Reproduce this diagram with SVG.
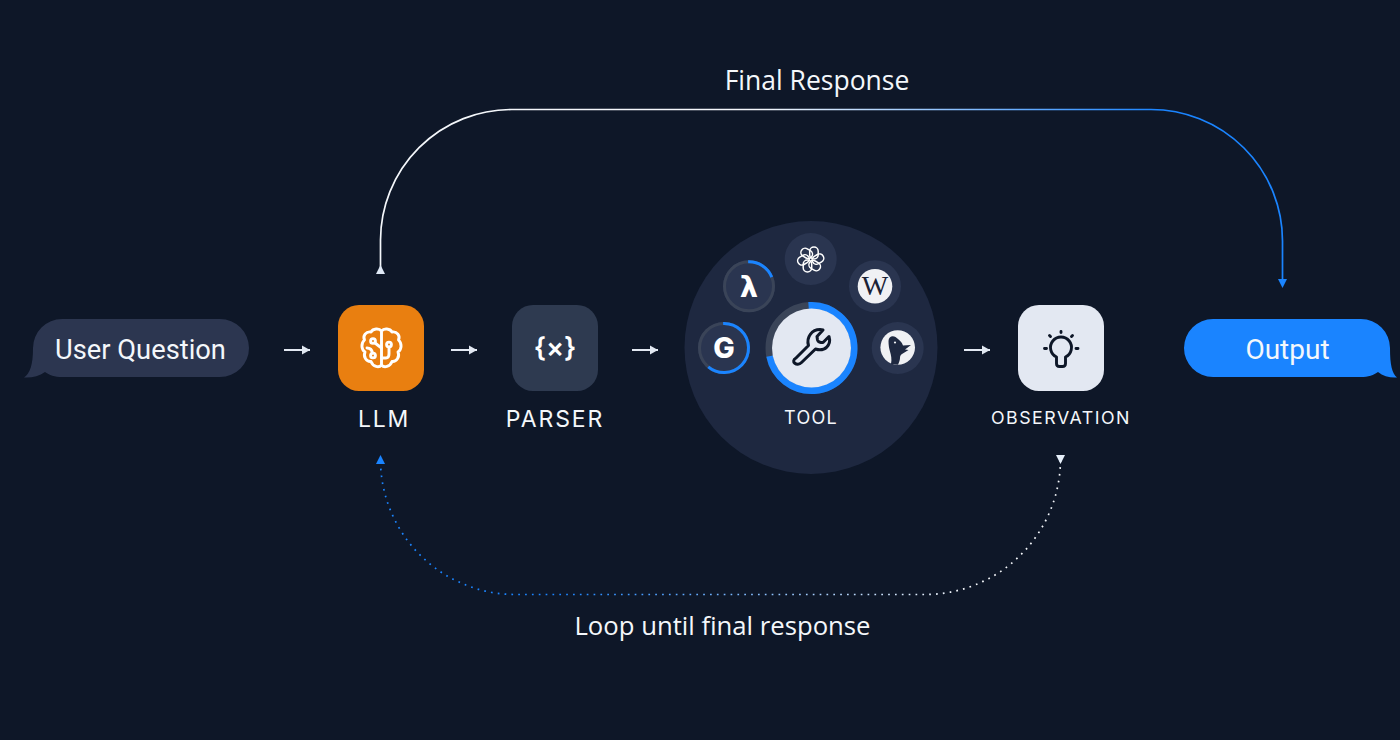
<svg xmlns="http://www.w3.org/2000/svg" width="1400" height="750" viewBox="0 0 1400 750">
<style>
.bubble{font-family:"Roboto","Liberation Sans",sans-serif;fill:#f4f7fb;text-anchor:middle}
.cap{font-family:"Inter","Liberation Sans",sans-serif;fill:#f4f7fb;text-anchor:middle}
.edge{font-family:"Open Sans","Liberation Sans",sans-serif;fill:#f4f7fb;text-anchor:middle}
.step{stroke:#e2e8f2;stroke-width:2;fill:none}
.ico{fill:none;stroke-linecap:round;stroke-linejoin:round}
.track{fill:none;stroke:#3a4458}
.prog{fill:none;stroke:#1a84ff}
</style>
<defs>
<linearGradient id="gTop" gradientUnits="userSpaceOnUse" x1="760" y1="0" x2="1160" y2="0"><stop offset="0" stop-color="#f4f7fb"/><stop offset="1" stop-color="#1a84ff"/></linearGradient>
<linearGradient id="gBot" gradientUnits="userSpaceOnUse" x1="560" y1="0" x2="960" y2="0"><stop offset="0" stop-color="#1a84ff"/><stop offset="1" stop-color="#f4f7fb"/></linearGradient>
<marker id="tiny" markerUnits="userSpaceOnUse" markerWidth="10" markerHeight="10" refX="9" refY="5" orient="auto"><path d="M1 0.500L9 5L1 9.500Z" fill="#e2e8f2"/></marker>
<rect id="petal" x="-1" y="-12.500" width="8.500" height="12" rx="4.200" fill="none" stroke="#ffffff" stroke-width="1.500"/>
</defs>
<rect width="1400" height="750" fill="#ffffff"/>
<rect width="1400" height="740" fill="#0e1728"/>

<g id="connectors">
<path d="M380.500 272V240A131 131 0 0 1 511.500 109.500H1151A131.500 131.500 0 0 1 1282.500 241V280" fill="none" stroke="url(#gTop)" stroke-width="1.700"/>
<path d="M376 274L380.500 265L385 274Z" fill="#dfe9f6"/>
<path d="M1278 279H1287L1282.500 288Z" fill="#1a84ff"/>
<path d="M380.500 464V459.500A135 135 0 0 0 515.500 594.500H925A135.500 135.500 0 0 0 1060.500 459" fill="none" stroke="url(#gBot)" stroke-width="1.700" stroke-dasharray="1.700 5.150"/>
<path d="M376 464L380.500 455L385 464Z" fill="#1a84ff"/>
<path d="M1056 455H1065L1060.500 464Z" fill="#e6effa"/>
<path class="step" d="M284 350H310" marker-end="url(#tiny)"/>
<path class="step" d="M451 350H477" marker-end="url(#tiny)"/>
<path class="step" d="M632 350H658" marker-end="url(#tiny)"/>
<path class="step" d="M964 350H990" marker-end="url(#tiny)"/>
<text class="edge" x="817" y="90" font-size="26.500">Final Response</text>
<text class="edge" x="722.500" y="635" font-size="25.700">Loop until final response</text>
</g>

<g id="user-question">
<path d="M62 319H220A29 29 0 0 1 220 377H62C55 377 49 375 45 372C39 376 32 378 24 377.500C30 373 33 365 33 348A29 29 0 0 1 62 319Z" fill="#2c3650"/>
<text class="bubble" x="140.500" y="359" font-size="27.300">User Question</text>
</g>

<g id="llm">
<rect x="338" y="305" width="86" height="86" rx="21" fill="#e97f10"/>
<g class="ico" stroke="#ffffff" stroke-width="2.900">
<path d="M381.500 331C379 328 373 328.500 371 332C366 331 362.500 336 364.500 340C361 343 361 349.500 365 352C363 357 366.500 362 371 361.500C373 367 379 368 381.500 365C384 368 390 367 392 361.500C396.500 362 400 357 398 352C402 349.500 402 343 398.500 340C400.500 336 397 331 392 332C390 328.500 384 328 381.500 331V365"/>
<path d="M375 343L381.500 348M381.500 358H386C388.500 358 389 356 389 354V347.500"/>
<path d="M367 348C371 348 372 350 372.500 353"/>
<circle cx="389" cy="344.500" r="2.400"/><circle cx="373" cy="355.500" r="2.400"/><circle cx="373" cy="341" r="2.400"/>
</g>
<text class="cap" x="384" y="427" font-size="23" letter-spacing="1.700">LLM</text>
</g>

<g id="parser">
<rect x="512" y="305" width="86" height="86" rx="21" fill="#2e3a50"/>
<text x="555" y="357" font-family="Inter,'DejaVu Sans',sans-serif" font-size="27" font-weight="600" fill="#ffffff" text-anchor="middle">{×}</text>
<text class="cap" x="555" y="427" font-size="23" letter-spacing="1.900">PARSER</text>
</g>

<g id="tool">
<circle cx="811" cy="347.500" r="126.500" fill="#1e2840"/>
<circle class="track" cx="811.500" cy="348" r="42.500" stroke-width="7"/>
<circle class="prog" cx="811.500" cy="348" r="42.500" stroke-width="7" pathLength="360" stroke-dasharray="263 97" transform="rotate(-94 811.500 348)"/>
<circle cx="811.500" cy="348" r="39.500" fill="#e3e8f2"/>
<path class="ico" stroke="#0e1728" stroke-width="3" d="M796 358L808.500 345.500C806 337 812 329.500 820 329.500Q821.500 329.500 823 330L817 336.500L817.500 340Q818 342 821 342.500L823 342.500L829 336.500C831.500 345 825 352 815.500 349L801.500 362.500C797 367 790 361.500 796 358Z"/>
<text class="cap" x="811" y="423.500" font-size="18" letter-spacing="1.300">TOOL</text>
</g>

<g id="tool-openai">
<circle cx="810.700" cy="259" r="26" fill="#2a3550"/>
<g transform="translate(810.700 259.500)">
<use href="#petal"/>
<use href="#petal" transform="rotate(60)"/>
<use href="#petal" transform="rotate(120)"/>
<use href="#petal" transform="rotate(180)"/>
<use href="#petal" transform="rotate(240)"/>
<use href="#petal" transform="rotate(300)"/>
</g>
</g>

<g id="tool-lambda">
<circle cx="749" cy="286.300" r="26" fill="#2a3550"/>
<circle class="track" cx="749" cy="286.300" r="24.500" stroke-width="3"/>
<circle class="prog" cx="749" cy="286.300" r="24.500" stroke-width="3" pathLength="360" stroke-dasharray="70 290" transform="rotate(-92 749 286.300)"/>
<text x="749" y="296.500" font-family="'DejaVu Sans',sans-serif" font-size="29" font-weight="700" fill="#ffffff" text-anchor="middle">λ</text>
</g>

<g id="tool-wikipedia">
<circle cx="875" cy="286.300" r="26" fill="#2a3550"/>
<circle cx="875" cy="286.300" r="17.300" fill="#f0f1f4"/>
<text x="875" y="295" font-family="'Liberation Serif',serif" font-size="28" fill="#1a2236" text-anchor="middle">W</text>
</g>

<g id="tool-google">
<circle cx="724" cy="348" r="26" fill="#2a3550"/>
<circle class="track" cx="724" cy="348" r="24.500" stroke-width="3"/>
<circle class="prog" cx="724" cy="348" r="24.500" stroke-width="3" pathLength="360" stroke-dasharray="222 138" transform="rotate(-92 724 348)"/>
<text x="724" y="358" font-family="Inter,'Liberation Sans',sans-serif" font-size="28.500" font-weight="800" fill="#ffffff" text-anchor="middle">G</text>
</g>

<g id="tool-duckduckgo">
<circle cx="897.700" cy="348" r="26" fill="#2a3550"/>
<circle cx="897.700" cy="347.500" r="17.300" fill="#f0f1f4"/>
<path d="M888.500 341C888.500 336.500 892.500 335 895.500 337C899 339.500 902 342 903 345.500L911 345L905 349.500L908.500 350L902 354C900.500 355 900 356 900 358C900 360 899 362.500 898 364.700L891 364C892 359 891 355 890 351.500C889 348 888.500 345 888.500 341Z" fill="#1e2840"/>
<circle cx="895" cy="342.500" r="1.100" fill="#f0f1f4"/>
</g>

<g id="observation">
<rect x="1018" y="305" width="86" height="86" rx="21" fill="#e3e8f2"/>
<g class="ico" stroke="#0e1728" stroke-width="2.900">
<path d="M1056.500 357A10.500 10.500 0 1 1 1065.500 357V363.500C1065.500 365.500 1064 366.500 1062.500 366.500H1059.500C1058 366.500 1056.500 365.500 1056.500 363.500Z"/>
<path d="M1061 331.500V332.500M1049.500 335.500L1050.500 336.500M1072.500 335.500L1071.500 336.500M1044.500 348.500H1046.500M1076 348.500H1078"/>
</g>
<text class="cap" x="1061" y="423.500" font-size="17.800" letter-spacing="1.500">OBSERVATION</text>
</g>

<g id="output">
<path d="M1213 319H1361A29 29 0 0 1 1390 348C1390 365 1392 373 1397 377.500C1390 378 1383 376 1378 372C1374 375 1368 377 1361 377H1213A29 29 0 0 1 1213 319Z" fill="#1a84ff"/>
<text class="bubble" x="1287.500" y="359" font-size="28">Output</text>
</g>
</svg>
